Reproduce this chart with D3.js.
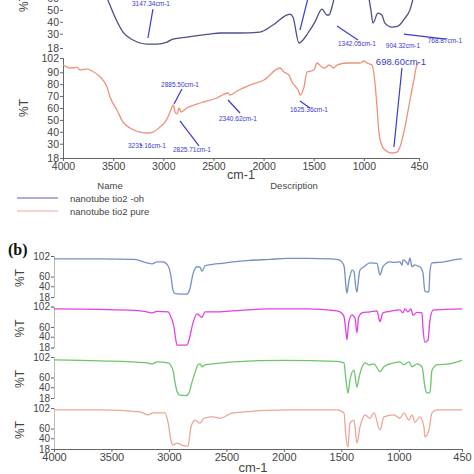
<!DOCTYPE html>
<html>
<head>
<meta charset="utf-8">
<script src="https://cdn.jsdelivr.net/npm/d3@7"></script>
<style>
  body { margin: 0; background: #fff; }
  svg { display: block; font-family: "Liberation Sans", Arial, sans-serif; }
</style>
</head>
<body>
<div id="chart"></div>
<script>
// ---- data : [wavenumber cm-1, %T] ----
var ohSpec = [[3800,90],[3631,75],[3551,58],[3482,44],[3402,31.4],[3302,24.7],[3163,21.3],[3063,21.3],[2963,23],[2903,25.5],
  [2764,27.2],[2534,29.7],[2435,30.6],[2235,30.6],[2036,31.4],[1906,37.3],[1737,46.5],[1707,44],[1647,22.2],[1607,24.7],
  [1557,30.6],[1488,39.8],[1418,50.7],[1368,45.7],[1348,45.7],[1318,52.4],[1290,62],[1200,75],[1100,78],[1000,70],
  [955,62],[930,50],[909,38.9],[860,47.3],[820,45.7],[790,38.9],[720,35.6],[660,36.4],[590,43.1],[541,49.8],[500,62],[450,72]];
var pureSpec = [[4000,96.1],[3960,94.4],[3910,93.6],[3860,94.4],[3831,91.9],[3761,92.8],[3711,91.1],[3651,87.7],[3601,83.5],
  [3561,77.6],[3531,69.2],[3462,58.3],[3402,48.2],[3332,43.2],[3232,39.8],[3163,39],[3103,39.8],[3033,44],[2983,48.2],
  [2953,52.4],[2913,60.8],[2900,62.5],[2883,56.6],[2863,55],[2843,60],[2824,56.6],[2764,60],[2634,64.2],[2465,68.4],
  [2355,72.6],[2335,70.9],[2265,74.3],[2136,79.3],[1996,83.5],[1837,93.6],[1797,90.2],[1747,87.7],[1717,81.8],[1647,73.4],
  [1637,70.9],[1597,77.6],[1567,90.2],[1497,91.9],[1468,97.8],[1418,94.4],[1388,93.6],[1348,96.1],[1298,93.6],[1268,96.1],
  [1169,97.8],[1039,97.8],[999,99.5],[969,97.8],[919,96.1],[889,81],[869,60.8],[849,39],[830,30.6],[790,24.7],[720,22.2],
  [670,23],[640,27.2],[590,44],[540,66.7],[501,83.5],[471,96.1],[450,98]];
var bSpec1 = [[4000,96],[3600,96],[3300,95],[3191,88],[3147,86],[3104,90],[3052,90],[3008,82],[2982,60],[2965,32],[2947,25],
  [2900,24],[2843,24],[2817,35],[2791,65],[2756,80],[2730,79],[2712,71],[2686,82],[2617,85],[2538,87],[2443,90],[2300,93],
  [2121,95],[1973,97],[1800,97],[1600,96],[1538,95],[1495,90],[1475,80],[1460,40],[1451,26],[1435,50],[1425,60],[1407,73],
  [1390,70],[1375,40],[1364,28],[1350,55],[1338,73],[1303,80],[1251,88],[1190,87],[1164,63],[1138,80],[1077,90],[1042,89],
  [990,90],[972,83],[964,94],[929,88],[920,84],[903,98],[885,80],[859,84],[842,82],[816,80],[790,68],[773,30],[746,28],
  [738,30],[729,70],[711,88],[650,89],[607,90],[500,95],[450,96]];
var bSpec2 = [[4000,97],[3600,96],[3300,94],[3191,91],[3147,89],[3104,92],[3008,91],[2982,80],[2956,60],[2947,45],[2930,23],
  [2843,23],[2826,33],[2791,68],[2756,87],[2712,80],[2686,91],[2600,91],[2450,93],[2121,97],[1800,97],[1538,93],[1495,88],
  [1475,80],[1460,50],[1451,34],[1435,70],[1407,85],[1381,78],[1364,48],[1350,80],[1320,89],[1251,91],[1190,93],[1164,71],
  [1138,89],[1077,92],[990,95],[964,89],[946,97],[920,91],[894,97],[877,84],[842,90],[798,89],[790,60],[773,29],[746,33],
  [729,74],[700,95],[600,96],[450,97]];
var bSpec3 = [[4000,96],[3600,94],[3191,90],[3147,88],[3104,92],[3008,90],[2965,75],[2947,50],[2930,32],[2904,24],[2850,23],
  [2826,28],[2800,50],[2773,70],[2747,86],[2730,88],[2712,82],[2686,86],[2617,88],[2443,92],[2000,95],[1538,93],[1477,90],
  [1460,55],[1442,28],[1425,55],[1390,75],[1364,40],[1347,59],[1320,81],[1294,90],[1260,86],[1216,88],[1164,72],[1129,82],
  [1042,90],[990,92],[955,86],[912,92],[885,82],[842,88],[798,82],[772,40],[755,28],[729,30],[711,75],[668,86],[560,88],[450,95]];
var bSpec4 = [[4000,98],[3600,98],[3250,94],[3182,88],[3139,92],[3034,92],[3008,73],[2982,36],[2965,26],[2930,30],[2887,26],
  [2834,24],[2808,63],[2773,77],[2730,71],[2695,81],[2617,84],[2556,81],[2443,92],[1973,98],[1538,98],[1477,92],[1460,43],
  [1442,22],[1425,71],[1390,77],[1364,30],[1338,63],[1320,77],[1294,88],[1251,81],[1216,92],[1164,57],[1129,84],[1042,88],
  [990,81],[955,92],[912,77],[885,88],[859,73],[816,84],[781,63],[773,43],[738,57],[711,92],[668,98],[450,98]];

var xTicks = [4000, 3500, 3000, 2500, 2000, 1500, 1000, 450];
var yTicksA = [18, 30, 40, 50, 60, 70, 80, 90, 102];
var yTicksB = [18, 40, 60, 102];
var legendNames = ['nanotube tio2 -oh', 'nanotube tio2 pure'];

// peak labels: text, label wn, label %T, leader [wn,%T] -> [wn,%T]
var ohPeaks = [
  ['3147.34cm-1', 3123, 53.3, [3103,50.7], [3153,26.4]],
  ['1342.05cm-1', 1069, 19.6, [1268,36.5], [1059,24.7]],
  ['904.32cm-1', 610, 17.9, null, null],
  ['768.87cm-1', 192, 22.2, [600,29.7], [181,25.5]],
  ['', 0, 0, [1557,60], [1637,33.1]]
];
var purePeaks = [
  ['2885.50cm-1', 2833, 77.6, [2814,76.0], [2893,63.3]],
  ['3231.16cm-1', 3163, 26.4, [3232,30], [3210,28]],
  ['2825.71cm-1', 2714, 23.0, [2834,49.1], [2644,28.1]],
  ['2340.62cm-1', 2255, 49.1, [2355,66.7], [2235,55.8]],
  ['1625.36cm-1', 1547, 56.6, [1637,65.9], [1537,60.0]]
];
var bigPeak = ['698.60cm-1', 630, 96.1, [620,93.6], [700,27.2]];

var W = 474, H = 474;
var svg = d3.select("#chart").append("svg").attr("width", W).attr("height", H);

var tickCol = "#444", labCol = "#3a3ad0";

// ---------- panel (a) ----------
var xA = d3.scaleLinear().domain([4000, 450]).range([63, 419]);
var yAup = d3.scaleLinear().domain([18, 102]).range([48, -52]);
var yAlo = d3.scaleLinear().domain([18, 102]).range([158, 58]);

function drawYAxis(g, scale, ticks, x, fs) {
  var ax = g.append("g").attr("transform", "translate(" + x + ",0)")
    .call(d3.axisLeft(scale).tickValues(ticks).tickSize(3).tickPadding(1));
  ax.select(".domain").attr("stroke", "#666");
  ax.selectAll(".tick line").attr("stroke", "#666");
  ax.selectAll("text").attr("fill", tickCol).style("font-size", fs);
  return ax;
}

var gA = svg.append("g");
drawYAxis(gA, yAup, yTicksA, 63, "10.5px").select(".domain").remove();
drawYAxis(gA, yAlo, yTicksA, 63, "10.5px");

var axA = gA.append("g").attr("transform", "translate(0,158)")
  .call(d3.axisBottom(xA).tickValues(xTicks).tickSize(3).tickPadding(2).tickFormat(d3.format("d")));
axA.select(".domain").attr("stroke", "#666");
axA.selectAll(".tick line").attr("stroke", "#666");
axA.selectAll("text").attr("fill", tickCol).style("font-size", "10.5px");

gA.append("text").attr("transform", "translate(28,3) rotate(-90)").attr("text-anchor", "middle")
  .attr("fill", tickCol).style("font-size", "12px").text("%T");
gA.append("text").attr("transform", "translate(28,108) rotate(-90)").attr("text-anchor", "middle")
  .attr("fill", tickCol).style("font-size", "12px").text("%T");

var lineA_up = d3.line().x(function (d) { return xA(d[0]); }).y(function (d) { return yAup(d[1]); }).curve(d3.curveMonotoneX);
var lineA_lo = d3.line().x(function (d) { return xA(d[0]); }).y(function (d) { return yAlo(d[1]); }).curve(d3.curveMonotoneX);

gA.append("path").datum(ohSpec).attr("d", lineA_up).attr("fill", "none").attr("stroke", "#4c4f88").attr("stroke-width", 1.3);
gA.append("path").datum(pureSpec).attr("d", lineA_lo).attr("fill", "none").attr("stroke", "#f0907a").attr("stroke-width", 1.3);

function drawPeaks(list, ys, size) {
  list.forEach(function (p) {
    if (p[3]) {
      gA.append("line").attr("x1", xA(p[3][0])).attr("y1", ys(p[3][1]))
        .attr("x2", xA(p[4][0])).attr("y2", ys(p[4][1]))
        .attr("stroke", labCol).attr("stroke-width", 1.2);
    }
    if (p[0]) {
      gA.append("text").attr("x", xA(p[1])).attr("y", ys(p[2])).attr("text-anchor", "middle")
        .attr("fill", labCol).style("font-size", size).text(p[0]);
    }
  });
}
drawPeaks(ohPeaks, yAup, "6.5px");
drawPeaks(purePeaks, yAlo, "6.5px");
drawPeaks([bigPeak], yAlo, "9.5px");

gA.append("text").attr("x", 241).attr("y", 179).attr("text-anchor", "middle")
  .attr("fill", tickCol).style("font-size", "12.5px").text("cm-1");
gA.append("text").attr("x", 294).attr("y", 189).attr("text-anchor", "middle")
  .attr("fill", tickCol).style("font-size", "9.5px").text("Description");
gA.append("text").attr("x", 110).attr("y", 189).attr("text-anchor", "middle")
  .attr("fill", tickCol).style("font-size", "9.5px").text("Name");

var legCols = ["#5b62a8", "#f4a4a4"];
legendNames.forEach(function (n, i) {
  var ly = 198 + i * 13;
  gA.append("line").attr("x1", 17).attr("x2", 58).attr("y1", ly).attr("y2", ly)
    .attr("stroke", legCols[i]).attr("stroke-width", 1.2);
  gA.append("text").attr("x", 70).attr("y", ly + 3.5).attr("fill", tickCol)
    .style("font-size", "9.5px").text(n);
});

// ---------- panel (b) ----------
svg.append("text").attr("x", 8).attr("y", 255).style("font-family", "'Liberation Serif', serif")
  .style("font-weight", "bold").style("font-size", "16px").attr("fill", "#111").text("(b)");

var xB = d3.scaleLinear().domain([4000, 450]).range([54, 462]);
var bTops = [256, 306.5, 357, 408];
var bSeries = [bSpec1, bSpec2, bSpec3, bSpec4];
var bCols = ["#7390c6", "#e23fe0", "#6cc46c", "#eda597"];

var gB = svg.append("g");
bSeries.forEach(function (s, i) {
  var ys = d3.scaleLinear().domain([18, 102]).range([bTops[i] + 41, bTops[i]]);
  var ax = drawYAxis(gB, ys, yTicksB, 54, "10px");
  ax.select(".domain").attr("stroke", "#bbb");
  gB.append("text").attr("transform", "translate(24," + (bTops[i] + 22) + ") rotate(-90)")
    .attr("text-anchor", "middle").attr("fill", tickCol).style("font-size", "12px").text("%T");
  var ln = d3.line().x(function (d) { return xB(d[0]); }).y(function (d) { return ys(d[1]); }).curve(d3.curveMonotoneX);
  gB.append("path").datum(s).attr("d", ln).attr("fill", "none").attr("stroke", bCols[i]).attr("stroke-width", 1.3);
});

var axB = gB.append("g").attr("transform", "translate(0,449)")
  .call(d3.axisBottom(xB).tickValues(xTicks).tickSize(3).tickPadding(1).tickFormat(d3.format("d")));
axB.select(".domain").attr("stroke", "#666");
axB.selectAll(".tick line").attr("stroke", "#666");
axB.selectAll("text").attr("fill", tickCol).style("font-size", "11px");

gB.append("text").attr("x", 253).attr("y", 472).attr("text-anchor", "middle")
  .attr("fill", tickCol).style("font-size", "13px").text("cm-1");
</script>
</body>
</html>
